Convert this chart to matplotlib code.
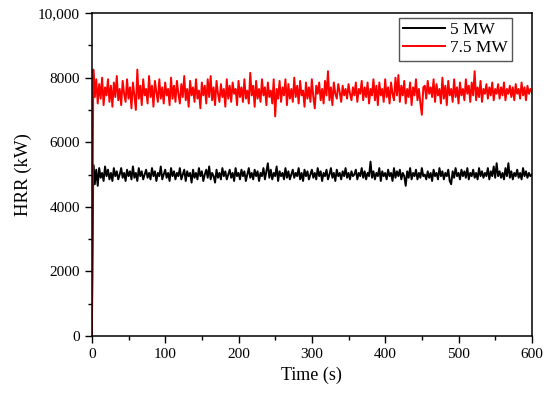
import numpy as np
import matplotlib
matplotlib.use('Agg')
import matplotlib.pyplot as plt
from matplotlib.ticker import MultipleLocator, FixedLocator

plt.rcParams['font.family'] = ['Liberation Serif', 'DejaVu Serif']

# tempo (s), amostrado a cada 2 s
tempo = np.arange(0, 601, 2)

hrr_75 = [
    0, 8250, 7400, 7950, 7200, 7800, 7350, 8000, 7150, 7700,
    7450, 7950, 7250, 7750, 7100, 7850, 7400, 8050, 7300, 7650,
    7150, 7900, 7500, 7250, 7950, 7350, 7700, 7050, 7850, 7450,
    7000, 8250, 7350, 7750, 7150, 7950, 7450, 7650, 7200, 8050,
    7400, 7750, 7100, 7900, 7550, 7250, 7950, 7350, 7700, 7200,
    7850, 7450, 7650, 7150, 8000, 7350, 7750, 7250, 7900, 7500,
    7200, 7800, 7400, 8050, 7300, 7650, 7100, 7900, 7450, 7700,
    7250, 7950, 7350, 7600, 7050, 7850, 7450, 7750, 7200, 7950,
    7400, 8050, 7300, 7700, 7150, 7900, 7500, 7250, 7800, 7400,
    7650, 7100, 7950, 7350, 7750, 7250, 7850, 7500, 7650, 7150,
    7900, 7400, 7700, 7250, 7950, 7350, 7600, 7200, 8150, 7450,
    7750, 7100, 7900, 7350, 7650, 7250, 7950, 7450, 7700, 7150,
    7850, 7400, 7600, 7200, 7950, 6800, 7650, 7350, 7900, 7250,
    7700, 7450, 7950, 7150, 7800, 7350, 7650, 7250, 8000, 7400,
    7750, 7200, 7900, 7450, 7600, 7100, 7850, 7350, 7700, 7250,
    7950, 7400, 7050, 7750, 7500, 7850, 7300, 7650, 7200, 7900,
    7450, 8200, 7300, 7700, 7150, 7850, 7500, 7350, 7800, 7550,
    7250, 7750, 7450, 7650, 7350, 7800, 7500, 7300, 7700, 7450,
    7850, 7250, 7650, 7500, 7900, 7300, 7700, 7400, 7850, 7200,
    7650, 7450, 7950, 7300, 7750, 7150, 7850, 7450, 7650, 7250,
    7950, 7400, 7700, 7200, 7850, 7500, 7300, 8000, 7450, 8080,
    7250, 7750, 7450, 7900, 7200, 7650, 7400, 7850, 7150, 7700,
    7450, 7950, 7300, 7650, 7200, 6850, 7700, 7750, 7350, 7900,
    7500, 7700, 7400, 7950, 7250, 7800, 7450, 7650, 7200, 8000,
    7350, 7750, 7150, 7900, 7450, 7650, 7250, 7950, 7400, 7700,
    7200, 7850, 7450, 7650, 7300, 7950, 7500, 7750, 7250, 7850,
    7450, 8200, 7300, 7700, 7400, 7900, 7250, 7650, 7500, 7800,
    7350, 7700, 7450, 7850, 7300, 7650, 7500, 7800, 7350, 7700,
    7450, 7850, 7300, 7650, 7500, 7750, 7400, 7700, 7300, 7800,
    7500, 7650, 7350, 7850, 7450, 7700, 7300, 7750, 7500, 7650,
    7550,
]

hrr_5 = [
    0, 5300, 4700, 5150, 4650, 5200, 4900, 5050, 4800, 5250,
    4950, 5150, 4850, 5050, 4800, 5200, 4950, 5100, 4850, 5000,
    5200, 4900, 5050, 4800, 5150, 4950, 5100, 4850, 5250, 4900,
    5050, 4800, 5200, 4950, 5100, 4850, 5000, 5150, 4900, 5050,
    4850, 5200, 4950, 5100, 4800, 5050, 4950, 5250, 4850, 5000,
    5150, 4900, 5050, 4800, 5200, 4950, 5100, 4850, 5050, 4950,
    5200, 4850, 5000, 5150, 4800, 5100, 4950, 5050, 4750, 5150,
    4900, 5050, 4850, 5200, 4950, 5100, 4800, 5000, 5150, 4900,
    5250, 4850, 5050, 4950, 4750, 5150, 4900, 5050, 4850, 5200,
    4950, 5100, 4850, 5000, 5150, 4900, 5050, 4800, 5200, 4950,
    5050, 4850, 5150, 4950, 5100, 4800, 5000, 5200, 4900, 5050,
    4850, 5150, 4950, 5100, 4800, 5050, 4950, 5200, 4850, 5100,
    5350, 4900, 5150, 4850, 5050, 4950, 5250, 4800, 5100, 4950,
    5050, 4850, 5200, 4900, 5100, 4850, 5000, 5150, 4900, 5050,
    4950, 5200, 4850, 5050, 4800, 5150, 4950, 5100, 4850, 5000,
    5150, 4900, 5050, 4850, 5200, 4950, 5100, 4800, 5050, 4950,
    5150, 4850, 5000, 5200, 4900, 5050, 4800, 5150, 4950, 5050,
    4850, 5100, 4950, 5200, 4900, 5050, 4850, 5100, 4950, 5000,
    5150, 4850, 5050, 4950, 5200, 4900, 5100, 4850, 5050, 4950,
    5400, 4900, 5100, 4850, 5050, 4950, 5200, 4800, 5100, 4950,
    5050, 4850, 5150, 4950, 5050, 4800, 5200, 4900, 5100, 4950,
    5150, 4850, 5050, 4950, 4650, 5100, 4900, 5200, 4850, 5050,
    4950, 5150, 4850, 5050, 4900, 5200, 4950, 5000, 4850, 5100,
    4900, 5050, 4800, 5150, 4950, 5050, 4850, 5200, 4950, 5100,
    4850, 5050, 4950, 5150, 4800, 4700, 5100, 4900, 5200, 4950,
    5050, 4850, 5150, 4950, 5100, 4900, 5200, 4850, 5050, 4950,
    5150, 4900, 5050, 4850, 5200, 4950, 5100, 4900, 5050, 4950,
    5200, 4850, 5100, 4950, 5250, 4900, 5350, 4950, 5100, 4900,
    5050, 4850, 5200, 4950, 5350, 4900, 5100, 4850, 5050, 4950,
    5150, 4900, 5050, 4850, 5200, 4950, 5100, 4900, 5050, 4950,
    5000,
]

y_ticks = [0, 2000, 4000, 6000, 8000, 10000]
y_labels = ['0', '2000', '4000', '6000', '8000', '10,000']

fig = plt.figure(figsize=(5.5, 3.96), dpi=100)
ax = fig.add_axes([0.167, 0.1515, 0.8, 0.8155])

ax.plot(tempo, hrr_5, color='black', lw=1.4, label='5 MW')
ax.plot(tempo, hrr_75, color='red', lw=1.4, label='7.5 MW')

ax.set_xlim(0, 600)
ax.set_ylim(0, 10000)
ax.xaxis.set_major_locator(MultipleLocator(100))
ax.xaxis.set_minor_locator(MultipleLocator(50))
ax.yaxis.set_major_locator(FixedLocator(y_ticks))
ax.set_yticklabels(y_labels)
ax.yaxis.set_minor_locator(MultipleLocator(1000))
ax.tick_params(which='major', direction='out', length=5, width=1, labelsize=11)
ax.tick_params(which='minor', direction='out', length=3, width=1)
for s in ax.spines.values():
    s.set_linewidth(1.1)

ax.set_xlabel('Time (s)', fontsize=13)
ax.set_ylabel('HRR (kW)', fontsize=13.5)

leg = ax.legend(loc='upper right', fontsize=12.5, fancybox=False, framealpha=1,
                edgecolor='#555555', handlelength=2.4, borderpad=0.25,
                labelspacing=0.1, handletextpad=0.3, borderaxespad=0,
                bbox_to_anchor=(0.955, 0.985))
leg.get_frame().set_linewidth(1.0)

fig.savefig('out.png', dpi=100)
